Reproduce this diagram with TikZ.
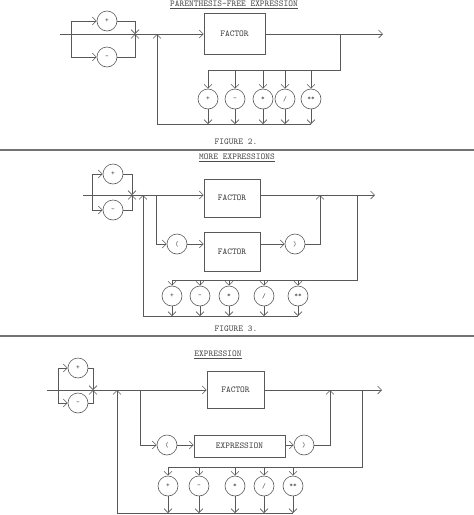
\documentclass[tikz,border=0pt]{standalone}
\usetikzlibrary{arrows.meta,positioning}

\begin{document}
\begin{tikzpicture}[x=1pt, y=-1pt,
    line/.style={draw=black!65, line width=0.6pt},
    arrow/.style={line, -{Straight Barb[length=4pt,width=8pt]}},
    term/.style={circle, line, minimum size=20pt, inner sep=0pt, font=\fontsize{7}{8}\selectfont\ttfamily, text=black!75},
    nonterm/.style={rectangle, line, inner sep=0pt, font=\fontsize{9}{10}\selectfont\ttfamily, text=black!75},
    caption/.style={inner sep=0pt, font=\fontsize{9}{10}\selectfont\ttfamily, text=black!70},
    rule/.style={draw=black!55, line width=1.2pt}]

    \useasboundingbox (0,0) rectangle (474,515);

    % figure 1: parenthesis-free expression
    \node[caption, anchor=north] (p1title) at (234,0.5) {\underline{PARENTHESIS-FREE EXPRESSION}};
    \coordinate (p1start) at (60,34);
    \coordinate (p1split) at (71,34);
    \coordinate (p1join) at (135,34);
    \coordinate (p1back) at (157,34);
    \coordinate (p1loop) at (340,34);
    \coordinate (p1end) at (383,34);
    \coordinate (p1rail) at (208,70);
    \coordinate (p1foot) at (311,124);
    \node[term] (p1plus) at (107,21) {+};
    \node[term] (p1minus) at (107,57) {-};
    \node[nonterm, minimum width=61pt, minimum height=41pt] (p1factor) at (234.5,34) {FACTOR};
    \draw[arrow] (p1start) -- (p1factor.west);
    \draw[arrow] (p1split) |- (p1plus);
    \draw[arrow] (p1split) |- (p1minus);
    \draw[arrow] (p1plus) -| (p1join);
    \draw[arrow] (p1minus) -| (p1join);
    \draw[arrow] (p1factor.east) -- (p1end);
    \draw[line] (p1loop) |- (p1rail);
    \foreach \x/\op [count=\i] in {208/+, 235/-, 263/*, 285/{/}, 311/**} {
        \node[term] (p1op\i) at (\x,99) {\op};
        \draw[arrow] (p1op\i |- p1rail) -- (p1op\i);
        \draw[arrow] (p1op\i) -- (p1op\i |- p1foot);
    }
    \draw[arrow] (p1foot) -| (p1back);

    \node[caption] (fig2) at (236,142) {FIGURE 2.};
    \draw[rule] (0,150) -- (474,150);

    % figure 2: more expressions
    \node[caption] (p2title) at (237,158) {\underline{MORE EXPRESSIONS}};
    \coordinate (p2start) at (83,195);
    \coordinate (p2split) at (92,195);
    \coordinate (p2join) at (132,195);
    \coordinate (p2back) at (143,195);
    \coordinate (p2branch) at (156,195);
    \coordinate (p2up) at (320,195);
    \coordinate (p2loop) at (357,195);
    \coordinate (p2end) at (375,195);
    \coordinate (p2rail) at (172,280);
    \coordinate (p2foot) at (298,316);
    \node[term] (p2plus) at (113,174) {+};
    \node[term] (p2minus) at (113,210) {-};
    \node[nonterm, minimum width=56pt, minimum height=38pt] (p2factor) at (232,198) {FACTOR};
    \node[term] (p2open) at (177,244) {(};
    \node[nonterm, minimum width=56pt, minimum height=39pt] (p2factorB) at (232,252) {FACTOR};
    \node[term] (p2close) at (295,244) {)};
    \draw[arrow] (p2start) -- (p2start -| p2factor.west);
    \draw[arrow] (p2split) |- (p2plus);
    \draw[arrow] (p2split) |- (p2minus);
    \draw[arrow] (p2plus) -| (p2join);
    \draw[arrow] (p2minus) -| (p2join);
    \draw[arrow] (p2start -| p2factor.east) -- (p2end);
    \draw[arrow] (p2branch) |- (p2open);
    \draw[arrow] (p2open) -- (p2open -| p2factorB.west);
    \draw[arrow] (p2close -| p2factorB.east) -- (p2close);
    \draw[arrow] (p2close) -| (p2up);
    \draw[line] (p2loop) |- (p2rail);
    \foreach \x/\op [count=\i] in {172/+, 200/-, 229/*, 264/{/}, 298/**} {
        \node[term] (p2op\i) at (\x,296) {\op};
        \draw[arrow] (p2op\i |- p2rail) -- (p2op\i);
        \draw[arrow] (p2op\i) -- (p2op\i |- p2foot);
    }
    \draw[arrow] (p2foot) -| (p2back);

    \node[caption] (fig3) at (236,329) {FIGURE 3.};
    \draw[rule] (0,336) -- (474,336);

    % figure 3: expression
    \node[caption] (p3title) at (218,355) {\underline{EXPRESSION}};
    \coordinate (p3start) at (47,390);
    \coordinate (p3split) at (58,390);
    \coordinate (p3join) at (93,390);
    \coordinate (p3back) at (117,390);
    \coordinate (p3branch) at (140,390);
    \coordinate (p3up) at (330,390);
    \coordinate (p3loop) at (362,390);
    \coordinate (p3end) at (382,390);
    \coordinate (p3rail) at (168,467);
    \coordinate (p3foot) at (293,513);
    \node[term] (p3plus) at (78,368) {+};
    \node[term] (p3minus) at (78,403) {-};
    \node[nonterm, minimum width=57pt, minimum height=37pt] (p3factor) at (235.5,390) {FACTOR};
    \node[term] (p3open) at (167,445) {(};
    \node[nonterm, minimum width=91pt, minimum height=22pt] (p3expr) at (239.5,446) {EXPRESSION};
    \node[term] (p3close) at (304,445) {)};
    \draw[arrow] (p3start) -- (p3factor.west);
    \draw[arrow] (p3split) |- (p3plus);
    \draw[arrow] (p3split) |- (p3minus);
    \draw[arrow] (p3plus) -| (p3join);
    \draw[arrow] (p3minus) -| (p3join);
    \draw[arrow] (p3factor.east) -- (p3end);
    \draw[arrow] (p3branch) |- (p3open);
    \draw[arrow] (p3open) -- (p3open -| p3expr.west);
    \draw[arrow] (p3close -| p3expr.east) -- (p3close);
    \draw[arrow] (p3close) -| (p3up);
    \draw[line] (p3loop) |- (p3rail);
    \foreach \x/\op [count=\i] in {168/+, 199/-, 235/*, 264/{/}, 293/**} {
        \node[term] (p3op\i) at (\x,486) {\op};
        \draw[arrow] (p3op\i |- p3rail) -- (p3op\i);
        \draw[arrow] (p3op\i) -- (p3op\i |- p3foot);
    }
    \draw[arrow] (p3foot) -| (p3back);
\end{tikzpicture}
\end{document}
